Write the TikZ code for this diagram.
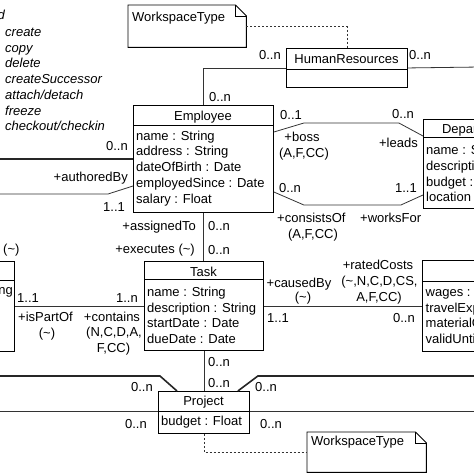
\documentclass[tikz,border=0pt]{standalone}
\usepackage{fontspec}
\setmainfont{Liberation Sans}
\usetikzlibrary{calc}
\begin{document}
\begin{tikzpicture}[x=1pt,y=-1pt]
\tikzset{
 cls/.style={draw=black, line width=0.9pt, fill=white, inner sep=0pt, anchor=north west},
 sepl/.style={draw=black, line width=0.9pt},
 assoc/.style={draw=black!80, line width=0.8pt},
 mid/.style={draw=black!85, line width=1.2pt},
 heavy/.style={draw=black!85, line width=1.6pt},
 dashedlink/.style={draw=black!80, line width=0.8pt, dash pattern=on 2pt off 2pt},
 txt/.style={font=\fontsize{13}{15.7}\selectfont, inner sep=0pt, text=black},
 ops/.style={inner sep=0pt, text=black, font=\fontsize{13}{15.7}\selectfont\itshape},
 notebox/.style={inner sep=0pt, anchor=north west},
 notel/.style={draw=black, line width=0.9pt, fill=white},
}
\useasboundingbox (0,0) rectangle (474,474);
\clip (0,0) rectangle (474,474);
% ---------- class boxes
\node[cls, minimum width=140pt, minimum height=107pt] (emp) at (133,105) {};
\node[cls, minimum width=121pt, minimum height=39pt] (hr) at (286,48) {};
\node[cls, minimum width=104pt, minimum height=89pt] (dept) at (423,119) {};
\node[cls, minimum width=119pt, minimum height=89pt] (task) at (144,261) {};
\node[cls, minimum width=74pt, minimum height=90pt] (leftc) at (-60,261) {};
\node[cls, minimum width=100pt, minimum height=91pt] (costs) at (422,260) {};
\node[cls, minimum width=91pt, minimum height=42pt] (proj) at (158,391) {};
\draw[sepl] ($(emp.north west)+(0,20)$) -- ($(emp.north east)+(0,20)$);
\draw[sepl] ($(hr.north west)+(0,21)$) -- ($(hr.north east)+(0,21)$);
\draw[sepl] ($(dept.north west)+(0,18)$) -- ($(dept.north east)+(0,18)$);
\draw[sepl] ($(task.north west)+(0,18)$) -- ($(task.north east)+(0,18)$);
\draw[sepl] ($(leftc.north west)+(0,19)$) -- ($(leftc.north east)+(0,19)$);
\draw[sepl] ($(costs.north west)+(0,21)$) -- ($(costs.north east)+(0,21)$);
\draw[sepl] ($(proj.north west)+(0,20)$) -- ($(proj.north east)+(0,20)$);
% ---------- notes
\node[notebox, minimum width=118pt, minimum height=42pt] (note1) at (128,5) {};
\node[notebox, minimum width=119pt, minimum height=40pt] (note2) at (307,432) {};
\draw[notel] (note1.north west) -- ($(note1.north east)+(-11,0)$) -- ($(note1.north east)+(0,11)$) -- (note1.south east) -- (note1.south west) -- cycle;
\draw[sepl] ($(note1.north east)+(-11,0)$) |- ($(note1.north east)+(0,11)$);
\draw[notel] (note2.north west) -- ($(note2.north east)+(-11,0)$) -- ($(note2.north east)+(0,11)$) -- (note2.south east) -- (note2.south west) -- cycle;
\draw[sepl] ($(note2.north east)+(-11,0)$) |- ($(note2.north east)+(0,11)$);
\node[txt, anchor=base west] (n1t) at (132,21.5) {WorkspaceType};
\node[txt, anchor=base west] (n2t) at (311,445.5) {WorkspaceType};
% ---------- class texts
\node[txt, anchor=base] (empt) at (203,120.5) {Employee};
\node[txt, anchor=base west] (ea1) at (136,140.2) {name : String};
\node[txt, anchor=base west] (ea2) at (136,155.9) {address : String};
\node[txt, anchor=base west] (ea3) at (136,171.6) {dateOfBirth : Date};
\node[txt, anchor=base west] (ea4) at (136,187.3) {employedSince : Date};
\node[txt, anchor=base west] (ea5) at (136,203.0) {salary : Float};
\node[txt, anchor=base] (hrt) at (346.5,63.5) {HumanResources};
\node[txt, anchor=base] (dt) at (476,133.5) {Department};
\node[txt, anchor=base west] (da1) at (426,154.5) {name : String};
\node[txt, anchor=base west] (da2) at (426,170.2) {description : String};
\node[txt, anchor=base west] (da3) at (426,186.0) {budget : Float};
\node[txt, anchor=base west] (da4) at (426,201.7) {location : String};
\node[txt, anchor=base] (tt) at (203.5,276.5) {Task};
\node[txt, anchor=base west] (ta1) at (147,296.8) {name : String};
\node[txt, anchor=base west] (ta2) at (147,312.3) {description : String};
\node[txt, anchor=base west] (ta3) at (147,327.8) {startDate : Date};
\node[txt, anchor=base west] (ta4) at (147,343.3) {dueDate : Date};
\node[txt, anchor=base east] (la1) at (13,294.5) {name : String};
\node[txt, anchor=base west] (ca1) at (425.5,296.5) {wages : Float};
\node[txt, anchor=base west] (ca2) at (425.5,312.0) {travelExpenses : Float};
\node[txt, anchor=base west] (ca3) at (425.5,327.5) {materialCosts : Float};
\node[txt, anchor=base west] (ca4) at (425.5,343.0) {validUntil : Date};
\node[txt, anchor=base] (pt) at (203.5,405.5) {Project};
\node[txt, anchor=base west] (pa1) at (161,425.5) {budget : Float};
% ---------- operations list (top left)
\node[ops, anchor=base east] (op0) at (5,19.5) {d};
\node[ops, anchor=base west] (op1) at (5,36.5) {create};
\node[ops, anchor=base west] (op2) at (5,52.2) {copy};
\node[ops, anchor=base west] (op3) at (5,67.9) {delete};
\node[ops, anchor=base west] (op4) at (5,83.6) {createSuccessor};
\node[ops, anchor=base west] (op5) at (5,99.3) {attach/detach};
\node[ops, anchor=base west] (op6) at (5,115.0) {freeze};
\node[ops, anchor=base west] (op7) at (5,130.7) {checkout/checkin};
% ---------- free ends
\coordinate (fL1) at (-5,159);
\coordinate (fL2) at (-5,194);
\coordinate (fHR) at (480,67);
\coordinate (fPL1) at (-5,376);
\coordinate (fPR1) at (480,376);
\coordinate (fPL2) at (-5,411);
\coordinate (fPR2) at (480,411);
% ---------- connectors
\draw[assoc] (emp.north) |- (hr.west);
\draw[assoc] (hr.east) -- (fHR);
\draw[mid] ($(emp.north west)+(0,54)$) -- (fL1);
\draw[assoc] ($(emp.north west)+(0,81)$) -- ++(-25,8) -- (fL2);
\draw[assoc] ($(emp.north east)+(0,27)$) -- ++(30,-9) -- ++(95,0) -- ($(dept.north west)+(0,17)$);
\draw[assoc] ($(emp.north east)+(0,87)$) -- ++(30,13) -- ++(97,0) -- ($(dept.north west)+(0,76)$);
\draw[assoc] (emp.south) -- (emp.south |- task.north);
\draw[assoc] (leftc.east) -- (leftc.east -| task.west);
\draw[assoc] (task.east) -- (task.east -| costs.west);
\draw[assoc] (task.south) -- (task.south |- proj.north);
\draw[heavy] ($(proj.north west)+(19,0)$) -- ++(-17,-15) -- (fPL1);
\draw[heavy] ($(proj.north east)+(-12,0)$) -- ++(20,-15) -- (fPR1);
\draw[assoc] ($(proj.north west)+(0,20)$) -- (fPL2);
\draw[assoc] ($(proj.north east)+(0,20)$) -- (fPR2);
\draw[dashedlink] (note1.east) -| (hr.north);
\draw[dashedlink] (proj.south) |- (note2.west);
% ---------- connector labels
\node[txt, anchor=base east] (l1) at (128,150.5) {0..n};
\node[txt, anchor=base east] (l2) at (128,181.5) {+authoredBy};
\node[txt, anchor=base west] (l3) at (103,211.5) {1..1};
\node[txt, anchor=base east] (l4) at (281,59.5) {0..n};
\node[txt, anchor=base west] (l5) at (209,101.5) {0..n};
\node[txt, anchor=base west] (l6) at (409,59.5) {0..n};
\node[txt, anchor=base west] (l7) at (280,119.5) {0..1};
\node[txt, anchor=base] (l8) at (302,141.5) {+boss};
\node[txt, anchor=base] (l9) at (304,157.5) {(A,F,CC)};
\node[txt, anchor=base west] (l10) at (392,118.5) {0..n};
\node[txt, anchor=base east] (l11) at (418,147) {+leads};
\node[txt, anchor=base west] (l12) at (279,192.5) {0..n};
\node[txt, anchor=base east] (l13) at (417,192.5) {1..1};
\node[txt, anchor=base west] (l14) at (277,222.5) {+consistsOf};
\node[txt, anchor=base] (l15) at (313,238.5) {(A,F,CC)};
\node[txt, anchor=base west] (l16) at (360,222.5) {+worksFor};
\node[txt, anchor=base east] (l17) at (196,230.5) {+assignedTo};
\node[txt, anchor=base west] (l18) at (208,230.5) {0..n};
\node[txt, anchor=base east] (l19) at (195,253.5) {+executes (\textasciitilde)};
\node[txt, anchor=base west] (l20) at (208,254.5) {0..n};
\node[txt, anchor=base west] (l21) at (3,253.5) {(\textasciitilde)};
\node[txt, anchor=base west] (l22) at (17,302.5) {1..1};
\node[txt, anchor=base east] (l23) at (138,302.5) {1..n};
\node[txt, anchor=base] (l24) at (45.5,321.5) {+isPartOf};
\node[txt, anchor=base] (l25) at (47,337.5) {(\textasciitilde)};
\node[txt, anchor=base] (l26) at (112,321.5) {+contains};
\node[txt, anchor=base] (l27) at (114,336.5) {(N,C,D,A,};
\node[txt, anchor=base] (l28) at (113.5,352.5) {F,CC)};
\node[txt, anchor=base] (l29) at (299,287.5) {+causedBy};
\node[txt, anchor=base] (l30) at (303,301.5) {(\textasciitilde)};
\node[txt, anchor=base] (l31) at (378,269.5) {+ratedCosts};
\node[txt, anchor=base] (l32) at (379.5,285.5) {(\textasciitilde,N,C,D,CS,};
\node[txt, anchor=base] (l33) at (379,301.5) {A,F,CC)};
\node[txt, anchor=base west] (l34) at (267,322.5) {1..1};
\node[txt, anchor=base east] (l35) at (415,322.5) {0..n};
\node[txt, anchor=base west] (l36) at (208,366.5) {0..n};
\node[txt, anchor=base west] (l37) at (208,387.5) {0..n};
\node[txt, anchor=base east] (l38) at (153,391.5) {0..n};
\node[txt, anchor=base west] (l39) at (255,391.5) {0..n};
\node[txt, anchor=base east] (l40) at (147,428.5) {0..n};
\node[txt, anchor=base west] (l41) at (260,428.5) {0..n};
\end{tikzpicture}
\end{document}
